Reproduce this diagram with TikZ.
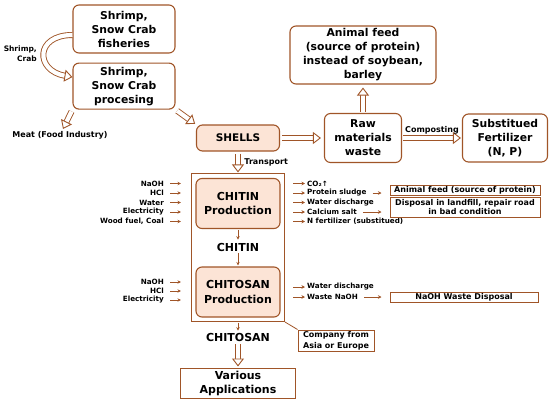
\documentclass[tikz,border=0pt]{standalone}
\usepackage{fontspec}
\setmainfont{DejaVu Sans}
\usepackage{tikz}
\usetikzlibrary{arrows.meta, positioning, fit, calc}
\definecolor{rust}{RGB}{160,85,40}
\definecolor{peach}{RGB}{252,228,214}
\tikzstyle{stage} = [rectangle, rounded corners=6pt, draw=rust, line width=1.1pt, align=center, inner sep=2pt, font=\bfseries\fontsize{10.8}{14}\selectfont]
\tikzstyle{product} = [stage, fill=peach]
\tikzstyle{sink} = [rectangle, draw=rust, line width=1pt, align=center, inner sep=1pt, font=\bfseries\fontsize{8}{9.5}\selectfont]
\tikzstyle{note} = [inner sep=1pt, font=\bfseries\fontsize{7.2}{9}\selectfont]
\tikzstyle{caption} = [inner sep=2pt, font=\bfseries\fontsize{8}{10}\selectfont]
\tikzstyle{hollow} = [draw=rust, line width=0.9pt, double=white, double distance=4.2pt, -{Triangle[fill=white, length=8pt, width=12pt]}]
\tikzstyle{tip} = [draw=rust, line width=0.9pt, -{Stealth[length=3.5pt, width=3.5pt]}]

\begin{document}
\begin{tikzpicture}[x=1pt, y=-1pt]
    \useasboundingbox (0,0) rectangle (550,405);

    % sea side
    \node[stage, minimum width=102pt, minimum height=48pt] (fish) at (124,29) {Shrimp,\\Snow Crab\\fisheries};
    \node[stage, minimum width=102pt, minimum height=46pt, below=9pt of fish] (proc) {Shrimp,\\Snow Crab\\procesing};
    \node[caption, font=\bfseries\fontsize{7.5}{10}\selectfont, align=right, anchor=east] (catch) at (39,54) {Shrimp,\\Crab};
    \node[caption] (meat) at (60,135) {Meat (Food Industry)};

    % shells and waste
    \node[product, minimum width=83pt, minimum height=26pt, font=\bfseries\fontsize{10.5}{13}\selectfont] (shells) at (238,138) {SHELLS};
    \node[stage, minimum width=77pt, minimum height=49pt] (raw) at (363,138) {Raw\\materials\\waste};
    \node[stage, minimum width=146pt, minimum height=58pt] (feedup) at (363,55) {Animal feed\\(source of protein)\\instead of soybean,\\barley};
    \node[stage, minimum width=85pt, minimum height=48pt] (fert) at (505,138) {Substitued\\Fertilizer\\(N, P)};

    % production
    \node[product, minimum width=84pt, minimum height=50pt, font=\bfseries\fontsize{11}{14.5}\selectfont] (chitin) at (238,203.5) {CHITIN\\Production};
    \node[caption, font=\bfseries\fontsize{11}{13}\selectfont] (chitinlbl) at (238,247) {CHITIN};
    \node[product, minimum width=84pt, minimum height=50pt, font=\bfseries\fontsize{11}{14.5}\selectfont] (chitosan) at (238,292) {CHITOSAN\\Production};
    \node[draw=rust, line width=1pt, inner sep=4pt, fit=(chitin)(chitosan)] (frame) {};
    \node[caption, font=\bfseries\fontsize{11}{13}\selectfont] (chitosanlbl) at (238,337) {CHITOSAN};
    \node[sink, minimum width=115pt, minimum height=30pt, font=\bfseries\fontsize{11}{14}\selectfont] (various) at (238,383) {Various\\Applications};
    \node[sink, minimum width=76pt, minimum height=21pt, font=\bfseries\fontsize{8}{11}\selectfont] (company) at (336,340.5) {Company from\\Asia or Europe};

    % inputs
    \node[note, anchor=east] (naoh1) at (165,183.5) {NaOH};
    \node[note, anchor=east] (hcl1) at (165,193) {HCl};
    \node[note, anchor=east] (water1) at (165,202.5) {Water};
    \node[note, anchor=east] (elec1) at (165,212) {Electricity};
    \node[note, anchor=east] (wood1) at (165,221.5) {Wood fuel, Coal};
    \node[note, anchor=east] (naoh2) at (165,282) {NaOH};
    \node[note, anchor=east] (hcl2) at (165,291) {HCl};
    \node[note, anchor=east] (elec2) at (165,300) {Electricity};

    % outputs
    \node[note, anchor=west] (co2) at (306,183.5) {CO₂↑};
    \node[note, anchor=west] (sludge) at (306,193) {Protein sludge};
    \node[note, anchor=west] (water2) at (306,202.5) {Water discharge};
    \node[note, anchor=west] (calcium) at (306,212) {Calcium salt};
    \node[note, anchor=west] (nfert) at (306,221.5) {N fertilizer (substitued)};
    \node[note, anchor=west] (water3) at (306,287) {Water discharge};
    \node[note, anchor=west] (wastenaoh) at (306,297) {Waste NaOH};
    \node[sink, minimum width=150pt, minimum height=9.5pt] (feedbox) at (465,190.5) {Animal feed (source of protein)};
    \node[sink, minimum width=150pt, minimum height=20pt] (landfill) at (465,207) {Disposal in landfill, repair road\\in bad condition};
    \node[sink, minimum width=148pt, minimum height=9.5pt] (naohbox) at (464,297.5) {NaOH Waste Disposal};

    \draw[hollow] ([yshift=-6pt]fish.west) to[out=180, in=170, looseness=2.3] ([yshift=9pt]proc.west);
    \draw[hollow, shorten <=2pt] (proc.south west) -- (meat);
    \draw[hollow, shorten <=2pt, shorten >=1pt] (proc.south east) -- (shells.north west);
    \draw[hollow, shorten <=2pt, shorten >=3pt] (shells) -- (raw);
    \draw[hollow, shorten <=1pt, shorten >=3pt] (raw) -- (feedup);
    \draw[hollow, shorten <=1pt, shorten >=1pt] (raw) -- node[caption, above=1pt] {Composting} (fert);
    \draw[hollow, shorten <=2pt, shorten >=1pt] (shells.south) -- node[caption, right=4pt] {Transport} (shells.south |- frame.north);
    \draw[hollow, shorten <=1pt, shorten >=1pt] (chitosanlbl) -- (various);

    \draw[tip, shorten <=1pt, shorten >=1pt] (chitin) -- (chitinlbl);
    \draw[tip, shorten >=1pt] (chitinlbl) -- (chitosan);
    \draw[tip, shorten <=5pt] (chitosan) -- (chitosanlbl);
    \draw[rust, line width=0.8pt] (frame.south east) -- (company.north west);

    \draw[tip, shorten <=5pt, shorten >=10pt] (naoh1) -- (naoh1 -| frame.west);
    \draw[tip, shorten <=5pt, shorten >=10pt] (hcl1) -- (hcl1 -| frame.west);
    \draw[tip, shorten <=5pt, shorten >=10pt] (water1) -- (water1 -| frame.west);
    \draw[tip, shorten <=5pt, shorten >=10pt] (elec1) -- (elec1 -| frame.west);
    \draw[tip, shorten <=5pt, shorten >=10pt] (wood1) -- (wood1 -| frame.west);
    \draw[tip, shorten <=5pt, shorten >=10pt] (naoh2) -- (naoh2 -| frame.west);
    \draw[tip, shorten <=5pt, shorten >=10pt] (hcl2) -- (hcl2 -| frame.west);
    \draw[tip, shorten <=5pt, shorten >=10pt] (elec2) -- (elec2 -| frame.west);

    \draw[tip, shorten <=8pt, shorten >=1pt] (co2 -| frame.east) -- (co2);
    \draw[tip, shorten <=8pt, shorten >=1pt] (sludge -| frame.east) -- (sludge);
    \draw[tip, shorten <=8pt, shorten >=1pt] (water2 -| frame.east) -- (water2);
    \draw[tip, shorten <=8pt, shorten >=1pt] (calcium -| frame.east) -- (calcium);
    \draw[tip, shorten <=8pt, shorten >=1pt] (nfert -| frame.east) -- (nfert);
    \draw[tip, shorten <=8pt, shorten >=1pt] (water3 -| frame.east) -- (water3);
    \draw[tip, shorten <=8pt, shorten >=1pt] (wastenaoh -| frame.east) -- (wastenaoh);

    \draw[tip, shorten <=5pt, shorten >=8pt] (sludge) -- (sludge -| feedbox.west);
    \draw[tip, shorten <=5pt, shorten >=8pt] (calcium) -- (calcium -| landfill.west);
    \draw[tip, shorten <=5pt, shorten >=8pt] (wastenaoh) -- (wastenaoh -| naohbox.west);
\end{tikzpicture}
\end{document}
